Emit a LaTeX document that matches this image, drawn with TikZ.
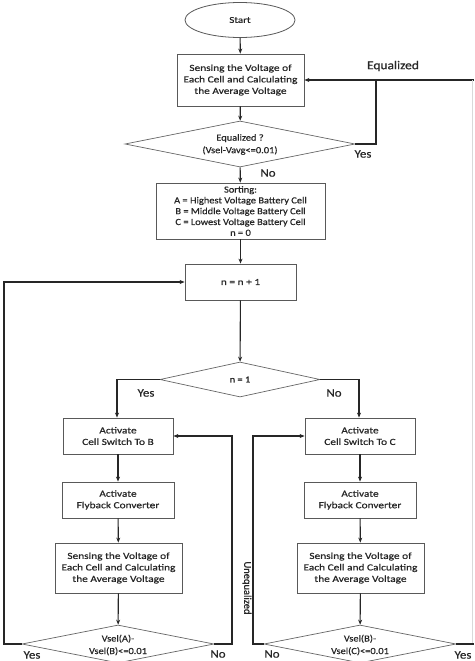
\documentclass[tikz,border=0pt]{standalone}
\usepackage{fontspec}
\setmainfont{Carlito}[FakeBold=0.5]
\newfontfamily\wfont{Carlito}[FakeStretch=1.22,FakeBold=0.5]
\newfontfamily\mfont{Carlito}[FakeStretch=1.12,FakeBold=0.5]
\usetikzlibrary{shapes.geometric,arrows.meta}
\begin{document}
\begin{tikzpicture}[x=1pt,y=-1pt,
  box/.style={draw=black!65,line width=0.8pt,rectangle,align=center,inner sep=1pt,
    text=black!85,font=\wfont\fontsize{9.3}{11.5}\selectfont},
  dia/.style={draw=black!60,line width=0.7pt,diamond,inner sep=0pt},
  dtext/.style={align=center,text=black!85,font=\mfont\fontsize{9.3}{12.5}\selectfont},
  conn/.style={line width=1.1pt,black!85},
  arr/.style={conn,-{Stealth[length=5pt,width=4pt]}},
  lbl/.style={font=\mfont\fontsize{11.5}{13}\selectfont,black!85}]
\useasboundingbox (0,0) rectangle (474,661);
\fill[white] (0,0) rectangle (474,661);

\node[draw=black!65,line width=0.8pt,ellipse,minimum width=110,minimum height=35,
  text=black!85,font=\wfont\fontsize{9}{10}\selectfont] (start) at (240,20) {Start};
\node[box,minimum width=127,minimum height=52] (sense1) at (240.5,80)
  {Sensing the Voltage of\\Each Cell and Calculating\\the Average Voltage};
\node[dia,minimum width=230,minimum height=46] (dia1) at (240,144) {};
\node[dtext] (dia1t) at (240,144.5) {Equalized ?\\(Vsel-Vavg<=0.01)};
\node[box,minimum width=169,minimum height=56,font=\mfont\fontsize{9.3}{10.8}\selectfont] (sort) at (240.5,211)
  {Sorting:\\A = Highest Voltage Battery Cell\\B = Middle Voltage Battery Cell\\C = Lowest Voltage Battery Cell\\n = 0};
\node[box,minimum width=111,minimum height=36] (inc) at (240.5,282) {n = n + 1};
\node[dia,minimum width=160,minimum height=35] (dia2) at (240,379.5) {};
\node[dtext] (dia2t) at (240,379.5) {n = 1};

\node[box,minimum width=110,minimum height=36] (swB) at (118,436) {Activate\\Cell Switch To B};
\node[box,minimum width=112,minimum height=36] (flyB) at (118,500) {Activate\\Flyback Converter};
\node[box,minimum width=127,minimum height=50] (senseB) at (118.5,568)
  {Sensing the Voltage of\\Each Cell and Calculating\\the Average Voltage};
\node[dia,minimum width=192,minimum height=38] (diaB) at (118,644) {};
\node[dtext] (diaBt) at (118,645) {Vsel(A)-\\Vsel(B)<=0.01};

\node[box,minimum width=110,minimum height=36] (swC) at (360,436) {Activate\\Cell Switch To C};
\node[box,minimum width=112,minimum height=36] (flyC) at (360,500) {Activate\\Flyback Converter};
\node[box,minimum width=127,minimum height=50] (senseC) at (360.5,568)
  {Sensing the Voltage of\\Each Cell and Calculating\\the Average Voltage};
\node[dia,minimum width=192,minimum height=38] (diaC) at (360,644) {};
\node[dtext] (diaCt) at (360,645) {Vsel(B)-\\Vsel(C)<=0.01};

% coordinates
\coordinate (eqTop) at (376,80);
\coordinate (eqR) at (474,80);
\coordinate (yesR) at (474,644);
\coordinate (grayTop) at (472.5,80);
\coordinate (grayBot) at (472.5,644);
\coordinate (loopBL) at (4,644);
\coordinate (uneqB) at (232,644);
\coordinate (uneqC) at (253,644);

% connectors
\draw[arr] (start) -- (sense1);
\draw[arr] (sense1) -- (dia1);
\draw[conn] (dia1.east) -| (eqTop);
\draw[arr] (eqR) -- (sense1.east);
\draw[draw=black!15,line width=1pt] (grayBot) -- (grayTop);
\draw[conn] (diaC.east) -- (yesR);
\draw[arr] (dia1) -- (sort);
\draw[arr] (sort) -- (inc);
\draw[arr] (inc) -- (dia2);
\draw[arr] (diaB.west) -- (loopBL) |- (inc.west);
\draw[arr] (dia2.west) -| ([xshift=-1pt]swB.north);
\draw[arr] (dia2.east) -| ([xshift=-1pt]swC.north);
\draw[arr] (swB) -- (flyB);
\draw[arr] (flyB) -- (senseB);
\draw[arr] (senseB) -- (diaB);
\draw[arr] (diaB.east) -- (uneqB) |- (swB.east);
\draw[arr] (swC) -- (flyC);
\draw[arr] (flyC) -- (senseC);
\draw[arr] (senseC) -- (diaC);
\draw[arr] (diaC.west) -- (uneqC) |- (swC.west);

% labels
\node[lbl,font=\mfont\fontsize{12}{13}\selectfont] (leq) at (393,66) {Equalized};
\node[lbl] (lyes1) at (363,154) {Yes};
\node[lbl] (lno1) at (268,173) {No};
\node[lbl] (lyes2) at (146,393) {Yes};
\node[lbl] (lno2) at (334,393) {No};
\node[lbl] (lyes3) at (32,655) {Yes};
\node[lbl] (lno3) at (218,654) {No};
\node[lbl] (lno4) at (272,654) {No};
\node[lbl] (lyes4) at (463,655) {Yes};
\node[lbl,font=\fontsize{10.5}{12}\selectfont,rotate=-90] (luneq) at (247,588) {Unequalized};
\end{tikzpicture}
\end{document}
